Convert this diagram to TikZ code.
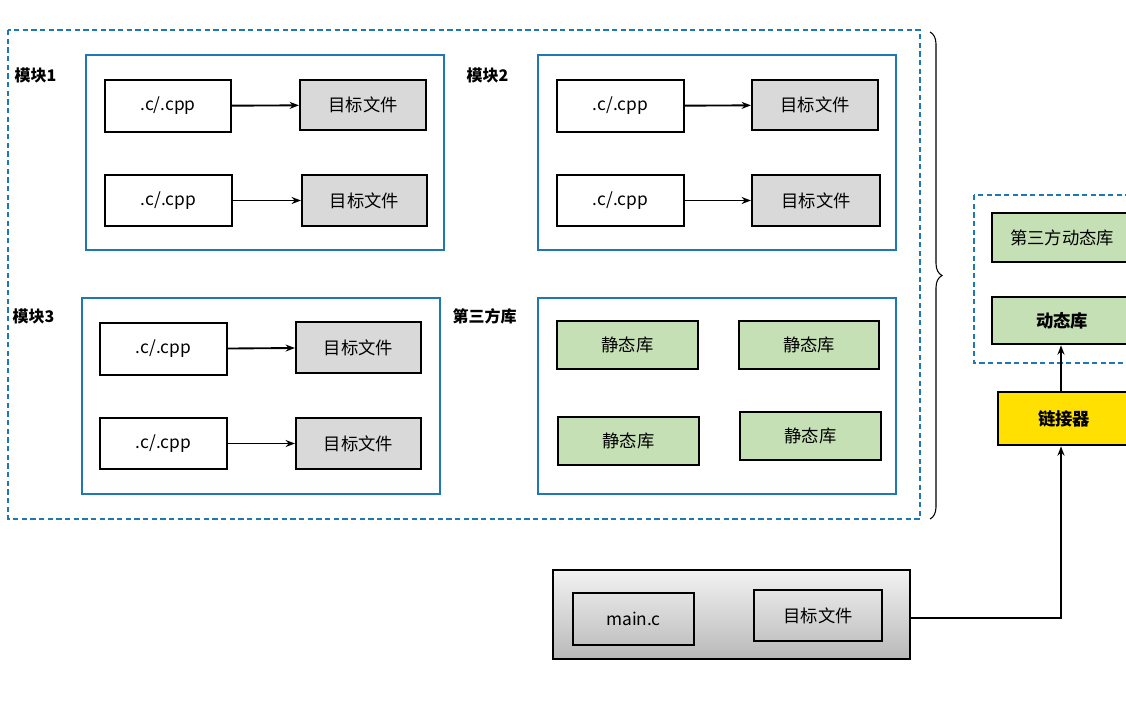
\documentclass[tikz,border=0pt]{standalone}
\usepackage{fontspec}
\setmainfont{Noto Sans CJK SC}
\usetikzlibrary{arrows.meta, decorations.pathreplacing, positioning, shapes.geometric}
\tikzset{
  src/.style={draw, line width=1pt, fill=white, font=\fontsize{13}{15}\selectfont},
  obj/.style={draw, line width=1.6pt, fill=gray!30, font=\fontsize{13}{15}\selectfont},
  lib/.style={draw, line width=2pt, fill=green!45!lime!20!white, fill=libgreen, font=\fontsize{13}{15}\selectfont},
  module/.style={draw=modblue, line width=1.8pt},
  group/.style={draw=modblue, line width=1pt, dash pattern=on 4pt off 2.5pt},
  lbl/.style={anchor=west, font=\fontsize{12}{14}\selectfont\bfseries},
  link/.style={line width=1.4pt, -{Stealth[length=7pt]}}
}
\definecolor{modblue}{HTML}{1F77B4}
\definecolor{libgreen}{HTML}{C5E0B4}
\definecolor{linkyellow}{HTML}{FFE000}
% box from corner to corner, in pixels
\newcommand\bx[7]{\node[#6, minimum width={(#4-#2)*0.75pt}, minimum height={(#5-#3)*0.75pt}, inner sep=0pt] (#1) at ({(#2+#4)/2},{(#3+#5)/2}) {#7};}
\begin{document}
\begin{tikzpicture}[x=0.75pt, y=-0.75pt]
        \useasboundingbox (0,0) rectangle (1126,704);
        \draw[group] (8,30) rectangle (920,519);
        \draw[group] (974,195) rectangle (1140,363);
        \draw[thick, decorate, decoration={brace, amplitude=9pt}] (930,32) -- (930,519);
        \draw[module] (86,55) rectangle (444,250);
        \draw[module] (538,55) rectangle (896,250);
        \draw[module] (82,298) rectangle (440,494);
        \draw[module] (538,298) rectangle (896,494);
        \node[lbl] (m1) at (10,75) {模块1};
        \node[lbl] (m2) at (462,75) {模块2};
        \node[lbl] (m3) at (8,316) {模块3};
        \node[lbl] (m4) at (448,316) {第三方库};
        % modules
        \bx{s1}{105}{80}{231}{132}{src}{.c/.cpp}
        \bx{o1}{300}{80}{426}{130}{obj}{目标文件}
        \bx{s2}{105}{175}{232}{226}{src}{.c/.cpp}
        \bx{o2}{302}{175}{427}{226}{obj}{目标文件}
        \bx{s3}{557}{80}{684}{132}{src}{.c/.cpp}
        \bx{o3}{752}{80}{878}{130}{obj}{目标文件}
        \bx{s4}{557}{175}{684}{226}{src}{.c/.cpp}
        \bx{o4}{752}{175}{880}{226}{obj}{目标文件}
        \bx{s5}{100}{323}{227}{375}{src}{.c/.cpp}
        \bx{o5}{296}{322}{421}{373}{obj}{目标文件}
        \bx{s6}{100}{418}{227}{469}{src}{.c/.cpp}
        \bx{o6}{296}{418}{421}{469}{obj}{目标文件}
        \foreach \i in {1,...,6}
          \draw[link] (s\i) -- (o\i);
        % third party
        \bx{a1}{557}{321}{698}{369}{lib}{静态库}
        \bx{a2}{739}{321}{879}{369}{lib}{静态库}
        \bx{a3}{558}{417}{699}{465}{lib}{静态库}
        \bx{a4}{740}{412}{881}{460}{lib}{静态库}
        % right side
        \bx{dyn3}{992}{213}{1132}{262}{lib}{第三方动态库}
        \bx{dyn}{992}{297}{1132}{344}{lib, font=\fontsize{13}{15}\selectfont\bfseries}{动态库}
        \bx{ld}{998}{392}{1130}{445}{lib, fill=linkyellow, font=\fontsize{13}{15}\selectfont\bfseries}{链接器}
        % main program
        \bx{prog}{553}{570}{910}{659}{draw, line width=2pt, top color=gray!10, bottom color=gray!55}{}
        \bx{mc}{573}{593}{694}{645}{draw, line width=1.6pt, font=\fontsize{13}{15}\selectfont}{main.c}
        \bx{mo}{754}{590}{882}{641}{draw, line width=1.6pt, font=\fontsize{13}{15}\selectfont}{目标文件}
        \coordinate (turn) at (1061,618);
        \draw[link] (prog.east |- turn) -- (turn) -- (turn |- ld.south);
        \draw[link] (turn |- ld.north) -- (turn |- dyn.south);
\end{tikzpicture}
\end{document}
